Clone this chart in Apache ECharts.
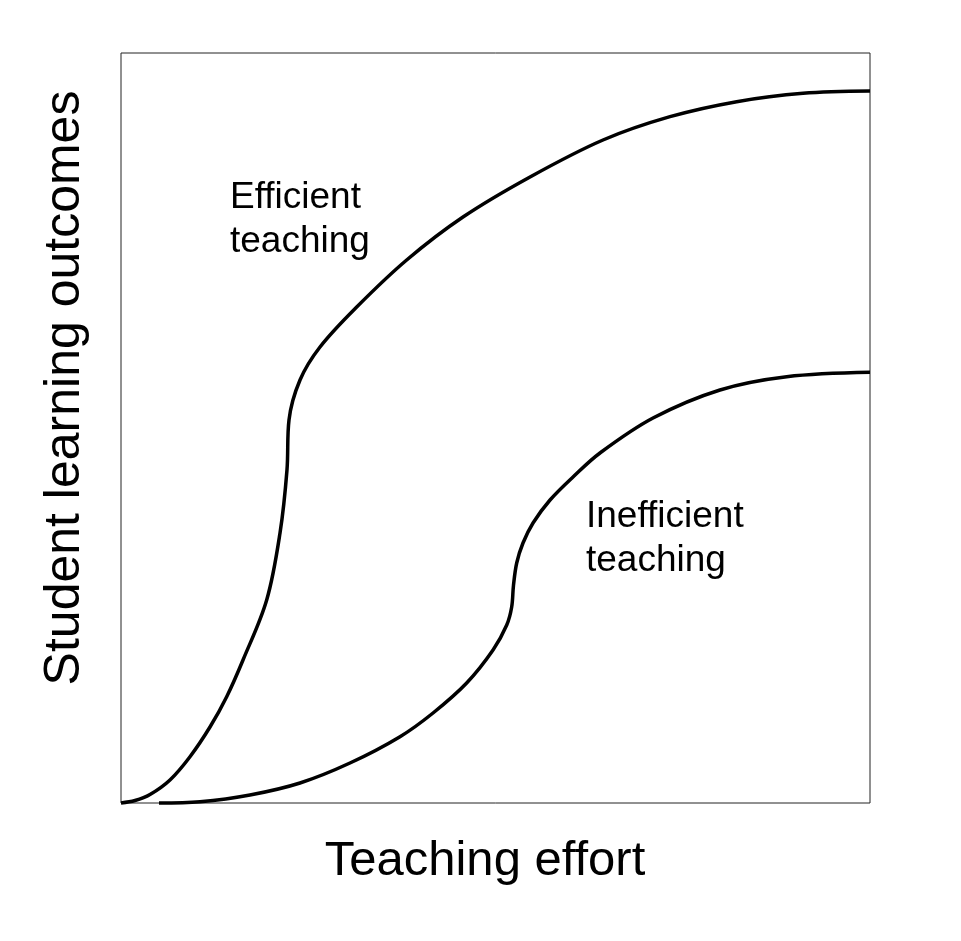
<!DOCTYPE html>
<html>
<head>
<meta charset="utf-8">
<script src="https://cdn.jsdelivr.net/npm/echarts@6/dist/echarts.min.js"></script>
<style>
html,body{margin:0;padding:0;background:#fff;}
#chart{width:961px;height:941px;}
</style>
</head>
<body>
<div id="chart"></div>
<script>
// Efficient teaching curve (x = teaching effort %, y = outcomes %)
var effX = [0, 1.87, 3.87, 6.54, 9.21, 11.88, 14.11, 16.29, 19.45, 21.23, 22.16, 22.43, 23.90, 26.57, 31.47, 38.14, 45.66, 54.61, 64.35, 73.30, 82.20, 91.06, 100];
var effY = [0, 0.33, 1.13, 3.07, 6.17, 10.13, 14.17, 19.07, 27.07, 36.0, 44.4, 51.07, 56.4, 60.8, 66.13, 72.4, 78.13, 83.47, 88.4, 91.51, 93.51, 94.63, 94.93];
// Inefficient teaching curve
var ineffX = [5.07, 10.55, 17.22, 23.90, 30.57, 37.25, 41.66, 46.15, 49.67, 51.50, 52.16, 52.40, 52.83, 53.67, 55.01, 57.28, 60.35, 63.95, 71.03, 79.97, 88.88, 100];
var ineffY = [0, 0.17, 1.07, 2.67, 5.33, 8.84, 12.0, 16.0, 20.4, 23.73, 26.13, 29.0, 32.0, 34.67, 37.33, 40.4, 43.47, 46.67, 51.33, 55.07, 56.84, 57.43];

var xTitle = 'Teaching effort';
var yTitle = 'Student learning outcomes';
var effLabel = 'Efficient\nteaching';
var ineffLabel = 'Inefficient\nteaching';

function pairs(xs, ys){ return xs.map(function(x,i){ return [x, ys[i]]; }); }

var chart = echarts.init(document.getElementById('chart'), null, {renderer:'canvas'});
var font = 'Liberation Sans, Arial, sans-serif';
chart.setOption({
  animation: false,
  backgroundColor: '#fff',
  grid: {left: 121, top: 53, width: 749, height: 750, show: true, borderColor: '#222', borderWidth: 1, backgroundColor: 'transparent'},
  xAxis: {type: 'value', min: 0, max: 100, axisLine: {show: false}, axisTick: {show: false}, axisLabel: {show: false}, splitLine: {show: false}},
  yAxis: {type: 'value', min: 0, max: 100, axisLine: {show: false}, axisTick: {show: false}, axisLabel: {show: false}, splitLine: {show: false}},
  series: [
    {name: 'Efficient teaching', type: 'line', data: pairs(effX, effY), smooth: 0.35, showSymbol: false, symbol: 'none', lineStyle: {color: '#000', width: 3.5}, clip: false},
    {name: 'Inefficient teaching', type: 'line', data: pairs(ineffX, ineffY), smooth: 0.35, showSymbol: false, symbol: 'none', lineStyle: {color: '#000', width: 3.5}, clip: false}
  ],
  graphic: [
    {type: 'text', x: 230, y: 176, style: {text: effLabel, font: '37px ' + font, fill: '#000', lineHeight: 44, align: 'left', verticalAlign: 'top'}},
    {type: 'text', x: 586, y: 495, style: {text: ineffLabel, font: '37px ' + font, fill: '#000', lineHeight: 44, align: 'left', verticalAlign: 'top'}},
    {type: 'text', x: 485, y: 861, style: {text: xTitle, font: '49px ' + font, fill: '#000', align: 'center', verticalAlign: 'middle'}},
    {type: 'text', x: 65, y: 388, rotation: Math.PI/2, style: {text: yTitle, font: '50px ' + font, fill: '#000', align: 'center', verticalAlign: 'middle'}}
  ]
});
</script>
</body>
</html>
